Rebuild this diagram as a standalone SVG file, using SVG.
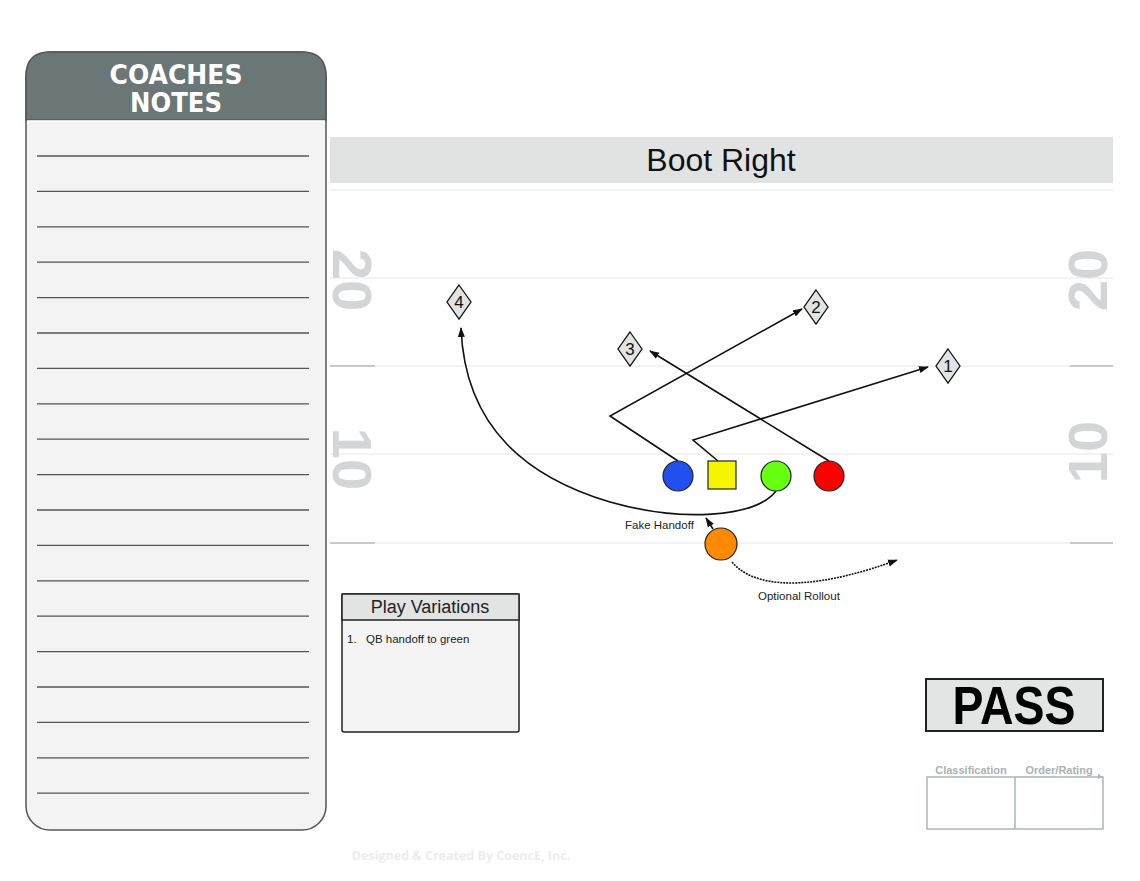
<svg xmlns="http://www.w3.org/2000/svg" width="1140" height="881" viewBox="0 0 1140 881">
<style>
.lbl{font-family:"Liberation Sans",Arial,sans-serif;fill:#222}
.route{fill:none;stroke:#111;stroke-width:1.6}
.note{stroke:#555;stroke-width:1.3}
.yard{font-family:"Liberation Sans",Arial,sans-serif;font-weight:bold;font-size:56px;fill:#d4d5d6;text-anchor:middle}
.faint{stroke:#efefef;stroke-width:1.5}
.tick{stroke:#b9bcbc;stroke-width:1.5}
.dia{fill:#e2e4e3;stroke:#111;stroke-width:1.3}
.dtxt{font-family:"Liberation Sans",Arial,sans-serif;font-size:17px;fill:#111;text-anchor:middle}
</style>
<defs>
<marker id="ah" markerUnits="userSpaceOnUse" markerWidth="10" markerHeight="8" refX="9" refY="4" orient="auto">
<path d="M0,0.5 L10,4 L0,7.5 z" fill="#111"/>
</marker>
</defs>
<rect width="1140" height="881" fill="#ffffff"/>

<g id="notes">
<rect x="26" y="52" width="300" height="778" rx="24" fill="#f3f3f3" stroke="#555" stroke-width="1.5"/>
<path d="M26,120 V76 Q26,52 50,52 H302 Q326,52 326,76 V120 Z" fill="#6b7776" stroke="#555" stroke-width="1.5"/>
<line x1="27" y1="121" x2="325" y2="121" stroke="#fff" stroke-width="1.5"/>
<text x="176" y="84" font-family="'DejaVu Sans',sans-serif" font-weight="bold" font-size="27" fill="#fff" text-anchor="middle" textLength="133" lengthAdjust="spacingAndGlyphs">COACHES</text>
<text x="176" y="112" font-family="'DejaVu Sans',sans-serif" font-weight="bold" font-size="27" fill="#fff" text-anchor="middle" textLength="92" lengthAdjust="spacingAndGlyphs">NOTES</text>
<g class="note">
<line x1="37" y1="156" x2="309" y2="156"/>
<line x1="37" y1="191.4" x2="309" y2="191.4"/>
<line x1="37" y1="226.8" x2="309" y2="226.8"/>
<line x1="37" y1="262.2" x2="309" y2="262.2"/>
<line x1="37" y1="297.6" x2="309" y2="297.6"/>
<line x1="37" y1="333" x2="309" y2="333"/>
<line x1="37" y1="368.4" x2="309" y2="368.4"/>
<line x1="37" y1="403.8" x2="309" y2="403.8"/>
<line x1="37" y1="439.2" x2="309" y2="439.2"/>
<line x1="37" y1="474.6" x2="309" y2="474.6"/>
<line x1="37" y1="510" x2="309" y2="510"/>
<line x1="37" y1="545.4" x2="309" y2="545.4"/>
<line x1="37" y1="580.8" x2="309" y2="580.8"/>
<line x1="37" y1="616.2" x2="309" y2="616.2"/>
<line x1="37" y1="651.6" x2="309" y2="651.6"/>
<line x1="37" y1="687" x2="309" y2="687"/>
<line x1="37" y1="722.4" x2="309" y2="722.4"/>
<line x1="37" y1="757.8" x2="309" y2="757.8"/>
<line x1="37" y1="793.2" x2="309" y2="793.2"/>
</g>
</g>

<g id="title">
<rect x="330" y="137" width="783" height="46" fill="#e1e3e2"/>
<line x1="330" y1="190" x2="1113" y2="190" stroke="#f3f3f3" stroke-width="2"/>
<text x="721" y="171" font-family="'Liberation Sans',Arial,sans-serif" font-size="32" fill="#111" text-anchor="middle">Boot Right</text>
</g>

<g id="field">
<line class="faint" x1="330" y1="278" x2="1113" y2="278"/>
<line class="faint" x1="330" y1="366" x2="1113" y2="366"/>
<line class="faint" x1="330" y1="454" x2="1113" y2="454"/>
<line class="faint" x1="330" y1="543" x2="1113" y2="543"/>
<line class="tick" x1="330" y1="366" x2="375" y2="366"/>
<line class="tick" x1="1070" y1="366" x2="1113" y2="366"/>
<line class="tick" x1="330" y1="543" x2="375" y2="543"/>
<line class="tick" x1="1070" y1="543" x2="1113" y2="543"/>
<text class="yard" transform="translate(333,280) rotate(90)">20</text>
<text class="yard" transform="translate(333,459) rotate(90)">10</text>
<text class="yard" transform="translate(1107,280) rotate(-90)">20</text>
<text class="yard" transform="translate(1107,452) rotate(-90)">10</text>
</g>

<g id="connectors">
<polyline class="route" points="678,461 610,416 802,309" marker-end="url(#ah)"/>
<polyline class="route" points="718,461 693,440 928,367" marker-end="url(#ah)"/>
<line class="route" x1="829" y1="461" x2="650" y2="351" marker-end="url(#ah)"/>
<path class="route" d="M776,491 C755,518 680,522 610,502 C530,478 465,430 461,328" marker-end="url(#ah)"/>
<line class="route" x1="713" y1="529" x2="706" y2="518" stroke-width="1.3" marker-end="url(#ah)"/>
<path class="route" d="M732,562 C760,595 830,585 897,560" stroke-dasharray="2,1" marker-end="url(#ah)"/>
</g>

<g id="receiver4"><polygon class="dia" points="459,285 471,302 459,319 447,302"/><text class="dtxt" x="459" y="308">4</text></g>
<g id="receiver3"><polygon class="dia" points="630,332 642,349 630,366 618,349"/><text class="dtxt" x="630" y="355">3</text></g>
<g id="receiver2"><polygon class="dia" points="816,290 828,307 816,324 804,307"/><text class="dtxt" x="816" y="313">2</text></g>
<g id="receiver1"><polygon class="dia" points="948,349 960,366 948,383 936,366"/><text class="dtxt" x="948" y="372">1</text></g>

<g id="player-blue"><circle cx="678" cy="476" r="15" fill="#2250ee" stroke="#222" stroke-width="1.2"/></g>
<g id="player-center"><rect x="708" y="461" width="28" height="28" fill="#f6f600" stroke="#222" stroke-width="1.2"/></g>
<g id="player-green"><circle cx="776" cy="476" r="15" fill="#66ff11" stroke="#222" stroke-width="1.2"/></g>
<g id="player-red"><circle cx="829" cy="476" r="15" fill="#ff0000" stroke="#222" stroke-width="1.2"/></g>
<g id="player-qb"><circle cx="721" cy="544" r="16" fill="#ff8a00" stroke="#222" stroke-width="1.2"/></g>

<text class="lbl" x="625" y="529" font-size="11.5">Fake Handoff</text>
<text class="lbl" x="758" y="600" font-size="11.5">Optional Rollout</text>

<g id="variations">
<rect x="342" y="594" width="177" height="138" rx="2" fill="#f4f4f4" stroke="#222" stroke-width="1.5"/>
<rect x="342" y="594" width="177" height="26" fill="#e2e3e3" stroke="#222" stroke-width="1.5"/>
<text class="lbl" x="430" y="613" font-size="18" text-anchor="middle" fill="#111">Play Variations</text>
<text class="lbl" x="347" y="643" font-size="11.5" fill="#111">1.</text>
<text class="lbl" x="366" y="643" font-size="11.5" fill="#111">QB handoff to green</text>
</g>

<g id="pass">
<rect x="926" y="679" width="177" height="52" fill="#e3e5e4" stroke="#222" stroke-width="2"/>
<text x="1014" y="724" font-family="'Liberation Sans',Arial,sans-serif" font-weight="bold" font-size="53" fill="#000" text-anchor="middle" textLength="123" lengthAdjust="spacingAndGlyphs">PASS</text>
</g>

<g id="rating">
<rect x="927" y="777" width="176" height="52" fill="none" stroke="#a9b6b5" stroke-width="1.5"/>
<line x1="1015" y1="777" x2="1015" y2="829" stroke="#a9b6b5" stroke-width="1.5"/>
<text x="971" y="774" font-family="'Liberation Sans',Arial,sans-serif" font-weight="bold" font-size="11" fill="#a9b3b2" text-anchor="middle">Classification</text>
<text x="1059" y="774" font-family="'Liberation Sans',Arial,sans-serif" font-weight="bold" font-size="11" fill="#a9b3b2" text-anchor="middle">Order/Rating</text>
<path d="M1098,774 L1103,777 L1098,779 z" fill="#a9b6b5"/>
</g>

<text x="461" y="860" font-family="'Open Sans',sans-serif" font-weight="bold" font-size="12.5" fill="#ececec" text-anchor="middle">Designed &amp; Created By CoencE, Inc.</text>
</svg>
